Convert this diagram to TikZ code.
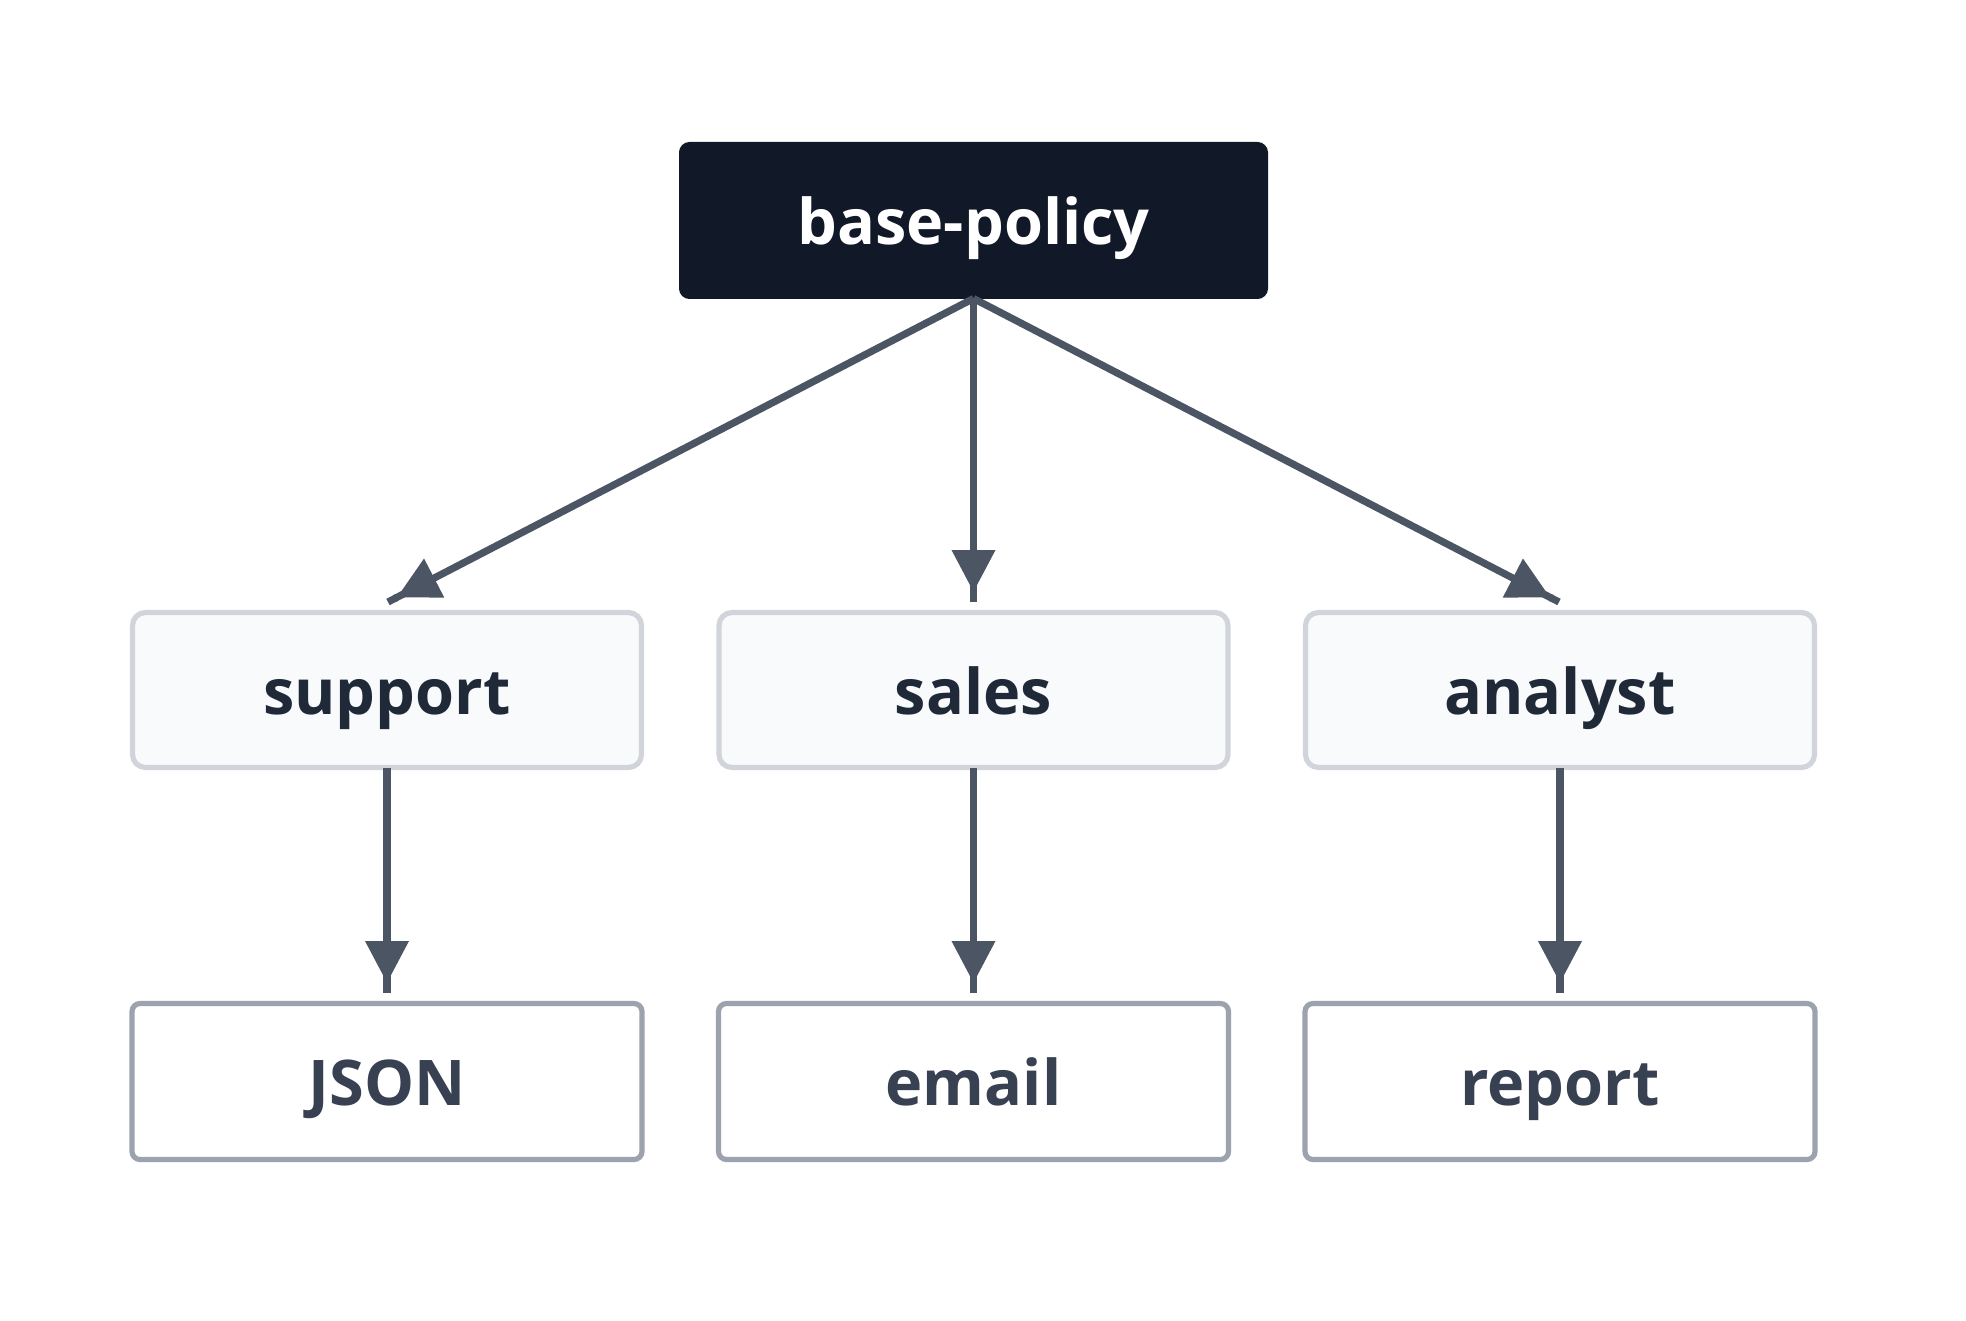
\documentclass[tikz,border=0pt]{standalone}
\usepackage{fontspec}
\setmainfont{Open Sans}
\usetikzlibrary{arrows.meta,calc}
\definecolor{edgecol}{HTML}{4B5563}
\definecolor{basefill}{HTML}{111827}
\definecolor{midfill}{HTML}{F9FAFB}
\definecolor{midborder}{HTML}{D1D5DB}
\definecolor{midtext}{HTML}{1F2937}
\definecolor{lowborder}{HTML}{9CA3AF}
\definecolor{lowtext}{HTML}{374151}
\tikzset{
  lbl/.style={font=\fontsize{31.5}{38}\selectfont\bfseries, inner sep=0pt, outer sep=0pt,
    text height=29pt, text depth=5pt, align=center},
  basebox/.style={lbl, rectangle, rounded corners=5pt, fill=basefill, draw=basefill,
    line width=0.5pt, text=white, minimum width=294pt, minimum height=78pt},
  midbox/.style={lbl, rectangle, rounded corners=6.5pt, fill=midfill, draw=midborder,
    line width=2.6pt, text=midtext, minimum width=254.5pt, minimum height=77.5pt},
  lowbox/.style={lbl, rectangle, rounded corners=4pt, fill=white, draw=lowborder,
    line width=2.6pt, text=lowtext, minimum width=255pt, minimum height=78pt},
  conn/.style={draw=edgecol, line width=3.6pt,
    -{Triangle[length=21pt,width=21pt]Rectangle[length=5pt,width=3.6pt]}}
}
\begin{document}
\begin{tikzpicture}[x=0.5pt,y=-0.5pt]
\useasboundingbox (0,0) rectangle (1966,1321);
\node[basebox] (base) at (973.5,220.5) {base-policy};
\node[midbox] (support) at (387,690) {support};
\node[midbox] (sales) at (973.5,690) {sales};
\node[midbox] (analyst) at (1560,690) {analyst};
\node[lowbox] (json) at (387,1081.5) {JSON};
\node[lowbox] (email) at (973.5,1081.5) {email};
\node[lowbox] (report) at (1560,1081.5) {report};
\draw[conn] (base.south) -- ($(support.north)+(1,-10.5)$);
\draw[conn] (base.south) -- ($(sales.north)+(0,-10.5)$);
\draw[conn] (base.south) -- ($(analyst.north)+(-1,-10.5)$);
\draw[conn] (support.south) -- ($(json.north)+(0,-10.5)$);
\draw[conn] (sales.south) -- ($(email.north)+(0,-10.5)$);
\draw[conn] (analyst.south) -- ($(report.north)+(0,-10.5)$);
\end{tikzpicture}
\end{document}
